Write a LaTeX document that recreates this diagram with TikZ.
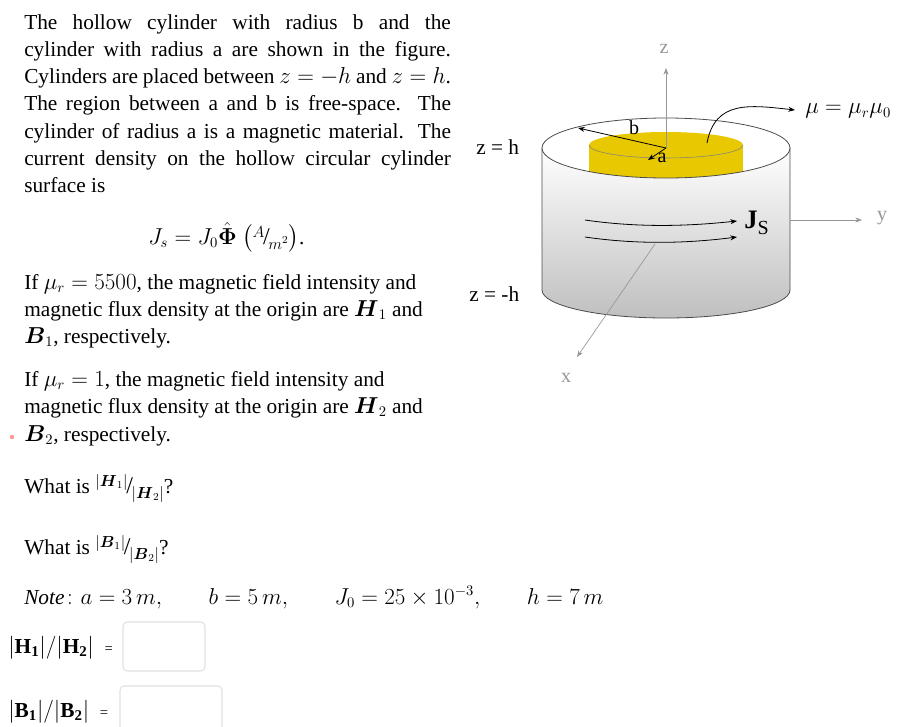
\documentclass[tikz,border=0pt]{standalone}
\usepackage{fontspec}
\usepackage{amsmath}
\setmainfont{Liberation Serif}
\usetikzlibrary{arrows.meta}
\definecolor{axg}{RGB}{150,150,150}
\definecolor{ylw}{RGB}{232,200,0}
\definecolor{boxg}{RGB}{225,225,225}
\tikzset{
 txt/.style={anchor=base west,inner sep=0pt,font=\fontsize{16}{20}\selectfont},
 jline/.style={anchor=base west,inner sep=0pt,font=\fontsize{16}{20}\selectfont},
 ax/.style={draw=axg,line width=0.5pt,-{Stealth[length=5pt]}},
 axl/.style={text=axg,font=\fontsize{15}{15}\selectfont,inner sep=0pt},
 blk/.style={draw=black,line width=0.6pt,-{Stealth[length=5pt]}},
 ansbox/.style={draw=boxg,rounded corners=3pt,line width=0.8pt},
}
\newcommand{\jl}[1]{\makebox[320pt][s]{#1}}
\newcommand{\sfrac}[2]{\raisebox{5pt}{\fontsize{12}{12}\selectfont#1}\kern-1pt{\fontsize{18}{18}\selectfont/}\kern-1pt\raisebox{-4pt}{\fontsize{12}{12}\selectfont#2}}
\begin{document}
\begin{tikzpicture}[x=0.75pt,y=-0.75pt]
\useasboundingbox (0,0) rectangle (907,726);
% text block
\node[jline] (l1) at (24,29) {\jl{The hollow cylinder with radius b and the}};
\node[jline] (l2) at (24,56) {\jl{cylinder with radius a are shown in the figure.}};
\node[jline] (l3) at (24,83) {\jl{Cylinders are placed between $z=-h$ and $z=h$.}};
\node[jline] (l4) at (24,110) {\jl{The region between a and b is free-space. The}};
\node[jline] (l5) at (24,138) {\jl{cylinder of radius a is a magnetic material. The}};
\node[jline] (l6) at (24,165) {\jl{current density on the hollow circular cylinder}};
\node[txt] (l7) at (24,192) {surface is};
\node[txt] (eq) at (148,244) {$J_s = J_0\hat{\boldsymbol{\Phi}}$\ $\bigl($\sfrac{$A$}{$m^2$}$\bigr)$.};
\node[txt] (p1) at (24,289) {If $\mu_r = 5500$, the magnetic field intensity and};
\node[txt] (p2) at (24,316) {magnetic flux density at the origin are $\boldsymbol{H}_1$ and};
\node[txt] (p3) at (24,343) {$\boldsymbol{B}_1$, respectively.};
\node[txt] (q1) at (24,386) {If $\mu_r = 1$, the magnetic field intensity and};
\node[txt] (q2) at (24,413) {magnetic flux density at the origin are $\boldsymbol{H}_2$ and};
\node[txt] (q3) at (24,441) {$\boldsymbol{B}_2$, respectively.};
\fill[red!40] (12,437) circle (2.2);
\node[txt] (w1) at (24,493) {What is \sfrac{$|\boldsymbol{H}_1|$}{$|\boldsymbol{H}_2|$}?};
\node[txt] (w2) at (24,554) {What is \sfrac{$|\boldsymbol{B}_1|$}{$|\boldsymbol{B}_2|$}?};
\node[txt] (note) at (24,604) {$\mathit{Note}\colon a = 3\,m,\qquad b = 5\,m,\qquad J_0 = 25\times10^{-3},\qquad h = 7\,m$};
\node[txt] (hl) at (8,653) {$|\mathbf{H_1}|/|\mathbf{H_2}|$ \ {\fontsize{11}{11}\selectfont =}};
\draw[ansbox] (123,622) rectangle (205,671);
\node[txt] (bl) at (8,717) {$|\mathbf{B_1}|/|\mathbf{B_2}|$ \ {\fontsize{11}{11}\selectfont =}};
\draw[ansbox] (120,686) rectangle (222,740);
% cylinder
\shade[top color=white, bottom color=black!25] (542,148) -- (542,290) arc[start angle=180,end angle=0,x radius=124,y radius=28] -- (790,148) arc[start angle=0,end angle=180,x radius=124,y radius=30] -- cycle;
\draw[black!70,line width=0.6pt] (542,148) -- (542,290) arc[start angle=180,end angle=0,x radius=124,y radius=28] -- (790,148);
\fill[white] (666,148) ellipse[x radius=124,y radius=30];
% yellow cylinder
\begin{scope}
\clip (542,148) arc[start angle=180,end angle=0,x radius=124,y radius=30] -- (790,100) -- (542,100) -- cycle;
\fill[ylw] (589,145) -- (589,185) -- (743,185) -- (743,145) -- cycle;
\end{scope}
\fill[ylw] (666,145) ellipse[x radius=77,y radius=13];
\draw[black!50,line width=0.4pt] (589,145) arc[start angle=180,end angle=0,x radius=77,y radius=13];
\draw[black!70,line width=0.6pt] (666,148) ellipse[x radius=124,y radius=30];
% axes
\coordinate (o) at (666,148);
\draw[ax] (o) -- (666,68) coordinate (zt);
\node[axl] (zl) at (664,49) {z};
\draw[ax] (790,220) -- (862,220);
\node[axl] (yl) at (882,218) {y};
\draw[ax] (655,244) -- (577,357);
\node[axl] (xl) at (566,378) {x};
% radii
\draw[blk] (o) -- (578,128);
\draw[blk] (o) -- (648,160);
\node[inner sep=0pt,font=\fontsize{15}{15}\selectfont] (bb) at (634,128) {b};
\node[inner sep=0pt,font=\fontsize{15}{15}\selectfont] (aa) at (662,158) {a};
% mu
\draw[blk] (707,143) .. controls (715,100) and (750,105) .. (795,110);
\node[anchor=west,inner sep=0pt,font=\fontsize{16}{16}\selectfont] (mu) at (805,111) {$\mu = \mu_r\mu_0$};
% Js
\draw[blk] (585,220) .. controls (640,228) and (690,226) .. (737,221);
\draw[blk] (585,237) .. controls (640,245) and (690,243) .. (737,237);
\node[anchor=west,inner sep=0pt,font=\fontsize{20}{20}\selectfont\bfseries] (js) at (744,223) {J\raisebox{-4pt}{\fontsize{15}{15}\mdseries S}};
\node[anchor=west,inner sep=0pt,font=\fontsize{16}{16}\selectfont] (zh) at (476,147) {z = h};
\node[anchor=west,inner sep=0pt,font=\fontsize{16}{16}\selectfont] (zmh) at (469,294) {z = -h};
\end{tikzpicture}
\end{document}
